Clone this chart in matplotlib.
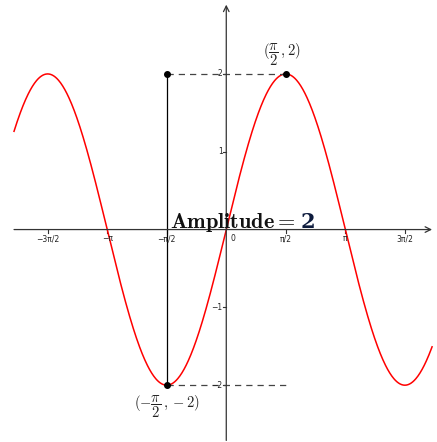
import numpy as np
import matplotlib
matplotlib.use("Agg")
import matplotlib.pyplot as plt

# data
amplitude = 2
x_min, x_max = -5.60, 5.43
x_ticks = [-3 * np.pi / 2, -np.pi, -np.pi / 2, np.pi / 2, np.pi, 3 * np.pi / 2]
x_tick_labels = ["\u22123\u03c0/2", "\u2212\u03c0", "\u2212\u03c0/2", "\u03c0/2", "\u03c0", "3\u03c0/2"]
y_ticks = [-2, -1, 1, 2]
y_tick_labels = ["\u22122", "\u22121", "1", "2"]
points_x = [np.pi / 2, -np.pi / 2]
points_y = [2, -2]

plt.rcParams["mathtext.fontset"] = "cm"

fig = plt.figure(figsize=(4.37, 4.42), dpi=100)
ax = fig.add_axes([0, 0, 1, 1])
ax.set_xlim(-5.97, 5.56)
ax.set_ylim(-2.73, 2.95)
ax.axis("off")

# axes with arrows
ax.annotate("", xy=(x_max, 0), xytext=(x_min, 0),
            arrowprops=dict(arrowstyle="->", color="#333333", lw=0.9, shrinkA=0, shrinkB=0))
ax.annotate("", xy=(0, 2.89), xytext=(0, -2.71),
            arrowprops=dict(arrowstyle="->", color="#333333", lw=0.9, shrinkA=0, shrinkB=0))

# ticks and tick labels
for xv, lab in zip(x_ticks, x_tick_labels):
    ax.plot([xv, xv], [0, -0.04], color="#333333", lw=0.8)
    ax.text(xv, -0.06, lab, ha="center", va="top", fontsize=5.5, color="#222222")
ax.text(0.1, -0.06, "0", ha="left", va="top", fontsize=5.5, color="#222222")
for yv, lab in zip(y_ticks, y_tick_labels):
    ax.plot([-0.08, 0], [yv, yv], color="#333333", lw=0.8)
    ax.text(-0.1, yv, lab, ha="right", va="center", fontsize=5.5, color="#222222")

# curve
xs = np.linspace(x_min, x_max, 800)
ax.plot(xs, amplitude * np.sin(xs), color="red", lw=1.1)

# guides
ax.plot([-np.pi / 2, -np.pi / 2], [-2, 2], color="black", lw=0.9)
ax.plot([-np.pi / 2, np.pi / 2], [2, 2], color="#444444", lw=0.9, dashes=(5, 4))
ax.plot([-np.pi / 2, np.pi / 2], [-2, -2], color="#444444", lw=0.9, dashes=(5, 4))
ax.plot([-np.pi / 2], [2], "o", color="black", ms=4)
ax.plot(points_x, points_y, "o", color="black", ms=4)

ax.text(points_x[0] - 0.1, 2.08, r"$(\dfrac{\pi}{2}\,,2)$", ha="center", va="bottom",
        fontsize=10.5, color="#222222")
ax.text(points_x[1], -2.1, r"$(-\dfrac{\pi}{2}\,,-2)$", ha="center", va="top",
        fontsize=10.5, color="#222222")

ax.text(-1.49, 0.02, r"$\mathbf{Amplitude}\mathbf{=}$", ha="left", va="baseline",
        fontsize=16, color="#111111")
ax.text(1.96, 0.02, str(amplitude), ha="left", va="baseline", fontsize=15,
        family="DejaVu Serif", weight="bold", color="#0d1b3d")

fig.savefig("out.png", dpi=100)
